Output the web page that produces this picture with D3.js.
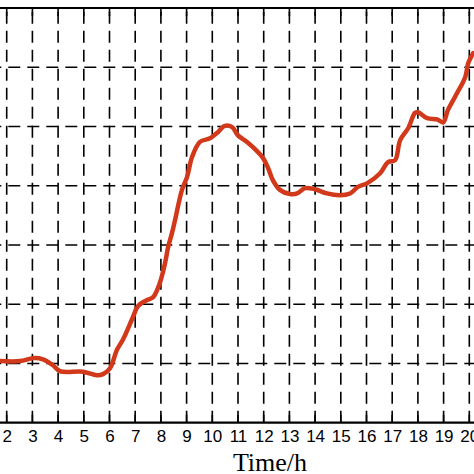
<!DOCTYPE html>
<html>
<head>
<meta charset="utf-8">
<script src="https://cdn.jsdelivr.net/npm/d3@7"></script>
<style>
  html, body { margin: 0; padding: 0; background: #fff; }
  svg { display: block; }
</style>
</head>
<body>
<script>
// Data: time in hours, load in gridline units
const hours = [1.74,2.52,3.02,3.41,3.80,4.07,4.97,5.51,5.75,6.02,6.29,6.52,6.91,7.11,7.46,7.70,7.96,8.16,8.28,8.43,8.55,8.82,9.02,9.21,9.52,9.91,10.18,10.49,10.77,11.00,11.35,11.58,11.97,12.17,12.36,12.63,13.02,13.30,13.61,14.00,14.46,14.97,15.36,15.67,16.02,16.53,16.84,17.11,17.31,17.62,17.89,18.01,18.36,18.75,18.98,19.17,19.52,19.84,19.96,20.15];
const load  = [1.04,1.04,1.09,1.07,0.97,0.87,0.86,0.80,0.82,0.92,1.23,1.40,1.78,1.97,2.07,2.12,2.36,2.69,2.96,3.20,3.42,3.93,4.15,4.48,4.74,4.80,4.89,5.01,4.99,4.85,4.74,4.65,4.47,4.30,4.09,3.93,3.86,3.87,3.96,3.94,3.87,3.84,3.87,3.98,4.04,4.21,4.40,4.43,4.77,4.97,5.23,5.24,5.14,5.12,5.07,5.28,5.56,5.83,6.07,6.24];
const xTicks = [1,2,3,4,5,6,7,8,9,10,11,12,13,14,15,16,17,18,19,20,21];
const yTicks = [1,2,3,4,5,6];
const xLabel = "Time/h";

const W = 474, H = 474;
const svg = d3.select("body").append("svg").attr("width", W).attr("height", H);

const x = d3.scaleLinear().domain([2, 20]).range([6.7, 469.3]);
const y = d3.scaleLinear().domain([0, 7]).range([422.7, 8]);
const xMin = 0, xMax = 22;

// vertical grid
svg.append("g").selectAll("line").data(xTicks).join("line")
  .attr("x1", d => x(d)).attr("x2", d => x(d))
  .attr("y1", y(0)).attr("y2", y(7))
  .attr("stroke", "#000").attr("stroke-width", 1.6)
  .attr("stroke-dasharray", "12,7");

// horizontal grid
svg.append("g").selectAll("line").data(yTicks).join("line")
  .attr("x1", x(xMin)).attr("x2", x(xMax))
  .attr("y1", d => y(d)).attr("y2", d => y(d))
  .attr("stroke", "#000").attr("stroke-width", 1.6)
  .attr("stroke-dasharray", "12,7")
  .attr("stroke-dashoffset", 4);

// bottom axis
const xAxis = d3.axisBottom(x).tickValues(xTicks.filter(d => d >= 2 && d <= 20))
  .tickSize(0).tickPadding(0).tickFormat(d3.format("d"));
const gx = svg.append("g").attr("transform", `translate(0,${y(0)})`).call(xAxis);
gx.select(".domain").remove();
gx.selectAll("text")
  .attr("dy", null).attr("y", 19)
  .attr("font-family", "'Liberation Sans', Arial, sans-serif")
  .attr("font-size", 17).attr("fill", "#000");

// tick marks bottom (inward) and top (inward)
svg.append("g").selectAll("line").data(xTicks).join("line")
  .attr("x1", d => x(d)).attr("x2", d => x(d))
  .attr("y1", y(0)).attr("y2", y(0) - 8)
  .attr("stroke", "#000").attr("stroke-width", 1.6);
svg.append("g").selectAll("line").data(xTicks).join("line")
  .attr("x1", d => x(d)).attr("x2", d => x(d))
  .attr("y1", y(7)).attr("y2", y(7) + 8)
  .attr("stroke", "#000").attr("stroke-width", 1.6);

// frame lines
svg.append("line").attr("x1", x(xMin)).attr("x2", x(xMax))
  .attr("y1", y(0)).attr("y2", y(0)).attr("stroke", "#000").attr("stroke-width", 2.2);
svg.append("line").attr("x1", x(xMin)).attr("x2", x(xMax))
  .attr("y1", y(7)).attr("y2", y(7)).attr("stroke", "#000").attr("stroke-width", 2.2);

// data line
const pts = hours.map((h, i) => [h, load[i]]);
svg.append("path").datum(pts)
  .attr("fill", "none").attr("stroke", "#d2381a").attr("stroke-width", 4.5)
  .attr("stroke-linejoin", "round").attr("stroke-linecap", "round")
  .attr("d", d3.line().x(d => x(d[0])).y(d => y(d[1])).curve(d3.curveCatmullRom.alpha(0.5)));

// x label
svg.append("text").attr("x", 270).attr("y", 470.5).attr("text-anchor", "middle")
  .attr("font-family", "'Liberation Serif', 'Times New Roman', serif")
  .attr("font-size", 26).attr("fill", "#000").text(xLabel);
</script>
</body>
</html>
